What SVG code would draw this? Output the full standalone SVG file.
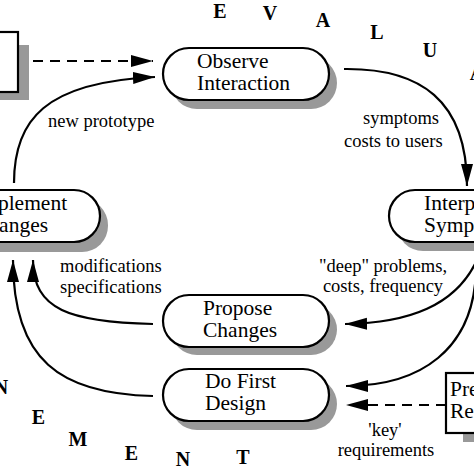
<svg xmlns="http://www.w3.org/2000/svg" width="474" height="474" viewBox="0 0 474 474">
<style>
.bg{fill:#ffffff}
.node{fill:#ffffff;stroke:#000000;stroke-width:2.2}
.shadow{fill:#999999;stroke:none}
.nt{font-family:"Liberation Serif","Times New Roman",serif;font-size:21.5px;fill:#000000}
.lb{font-family:"Liberation Serif","Times New Roman",serif;font-size:18.5px;fill:#000000}
.big{font-family:"Liberation Serif","Times New Roman",serif;font-size:20px;font-weight:bold;fill:#000000;text-anchor:middle}
.edge{fill:none;stroke:#000000;stroke-width:2.2}
.dash{stroke-dasharray:10 7}
</style>
<defs>
<marker id="arr" markerUnits="userSpaceOnUse" markerWidth="24" markerHeight="14" viewBox="0 -7 24 14" refX="22" refY="0" orient="auto">
<path d="M0,-6 L22,0 L0,6 Z" fill="#000000"/>
</marker>
</defs>
<rect class="bg" x="0" y="0" width="474" height="474"/>

<g id="big-letters">
<text class="big" x="220" y="18">E</text>
<text class="big" x="270" y="20">V</text>
<text class="big" x="323" y="27">A</text>
<text class="big" x="377" y="39">L</text>
<text class="big" x="430" y="57">U</text>
<text class="big" x="477" y="80">A</text>
<text class="big" x="1" y="394">N</text>
<text class="big" x="38.5" y="424">E</text>
<text class="big" x="78" y="446">M</text>
<text class="big" x="131.5" y="460">E</text>
<text class="big" x="183" y="466">N</text>
<text class="big" x="243" y="464">T</text>
</g>

<g id="connectors">
<path class="edge dash" d="M33,61 L153,61" marker-end="url(#arr)"/>
<path class="edge" d="M14,183 C14,120 45,82 155,77" marker-end="url(#arr)"/>
<path class="edge" d="M344,69 C420,68 467,100 467,186" marker-end="url(#arr)"/>
<path class="edge" d="M476,262 C455,305 410,323 345,324" marker-end="url(#arr)"/>
<path class="edge" d="M476,270 C474,350 420,386 346,386" marker-end="url(#arr)"/>
<path class="edge dash" d="M446,405 L346,405" marker-end="url(#arr)"/>
<path class="edge" d="M153,324 C70,322 33,310 33,260" marker-end="url(#arr)"/>
<path class="edge" d="M153,396 C60,394 13,360 13,260" marker-end="url(#arr)"/>
</g>

<g id="labels">
<text class="lb" x="48" y="127">new prototype</text>
<text class="lb" x="363" y="124">symptoms</text>
<text class="lb" x="344" y="147">costs to users</text>
<text class="lb" x="383" y="272" text-anchor="middle">"deep" problems,</text>
<text class="lb" x="383" y="292" text-anchor="middle">costs, frequency</text>
<text class="lb" x="60" y="272">modifications</text>
<text class="lb" x="60" y="293">specifications</text>
<text class="lb" x="385" y="436" text-anchor="middle">'key'</text>
<text class="lb" x="386" y="456" text-anchor="middle">requirements</text>
</g>

<g id="node-source">
<rect class="shadow" x="-40" y="45" width="69" height="55"/>
<rect class="node" x="-50" y="32" width="68" height="60"/>
</g>

<g id="node-observe">
<rect class="shadow" x="171" y="57" width="166" height="52" rx="26"/>
<rect class="node" x="163" y="48" width="166" height="52" rx="26"/>
<text class="nt" x="197" y="68">Observe</text>
<text class="nt" x="197" y="90">Interaction</text>
</g>

<g id="node-interpret">
<rect class="shadow" x="397" y="199" width="166" height="52" rx="26"/>
<rect class="node" x="389" y="190" width="166" height="52" rx="26"/>
<text class="nt" x="424" y="210">Interpret</text>
<text class="nt" x="424" y="232">Symptoms</text>
</g>

<g id="node-implement">
<rect class="shadow" x="-58" y="199" width="166" height="53" rx="26"/>
<rect class="node" x="-66" y="190" width="166" height="52" rx="26"/>
<text class="nt" x="-26" y="210">Implement</text>
<text class="nt" x="-26" y="232">Changes</text>
</g>

<g id="node-propose">
<rect class="shadow" x="171" y="304" width="166" height="51" rx="26"/>
<rect class="node" x="163" y="295" width="166" height="52" rx="26"/>
<text class="nt" x="203" y="315">Propose</text>
<text class="nt" x="203" y="337">Changes</text>
</g>

<g id="node-design">
<rect class="shadow" x="171" y="378" width="166" height="52" rx="26"/>
<rect class="node" x="163" y="369" width="166" height="52" rx="26"/>
<text class="nt" x="205" y="388">Do First</text>
<text class="nt" x="205" y="410">Design</text>
</g>

<g id="node-pre">
<rect class="shadow" x="463" y="380" width="60" height="62"/>
<rect class="node" x="446" y="373" width="80" height="60"/>
<text class="nt" x="450" y="396">Pre</text>
<text class="nt" x="450" y="418">Re</text>
</g>
</svg>
